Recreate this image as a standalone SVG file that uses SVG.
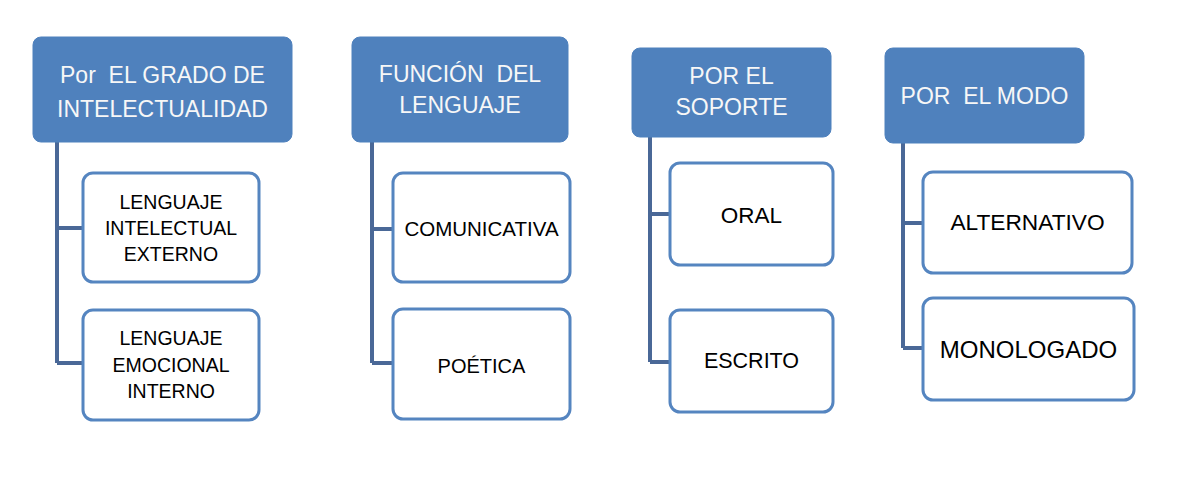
<svg xmlns="http://www.w3.org/2000/svg" width="1186" height="477" viewBox="0 0 1186 477">
<style>
.hdr{fill:#4f81bd;stroke:#4f81bd;stroke-width:1}
.box{fill:#ffffff;stroke:#5585c0;stroke-width:3}
.ht{fill:#f7f7f7;font-family:"Liberation Sans",Arial,sans-serif;font-size:23px;text-anchor:middle;white-space:pre}
.ct{fill:#000000;font-family:"Liberation Sans",Arial,sans-serif;text-anchor:middle;white-space:pre}
.con{fill:none;stroke:#4a6897;stroke-width:4}
</style>
<rect width="1186" height="477" fill="#ffffff"/>
<g id="connectors">
<path class="con" d="M57 142 V363 M57 228 H83 M57 363 H83"/>
<path class="con" d="M372 142 V363 M372 229 H393 M372 363 H393"/>
<path class="con" d="M650 137 V362 M650 214 H670 M650 362 H670"/>
<path class="con" d="M903 143 V348 M903 223 H923 M903 348 H923"/>
</g>
<g id="h1"><rect class="hdr" x="33" y="37" width="259" height="105" rx="8"/>
<text class="ht" x="162.5" y="83">Por  EL GRADO DE</text>
<text class="ht" x="162.5" y="117">INTELECTUALIDAD</text></g>
<g id="c1a"><rect class="box" x="83" y="173" width="176" height="109" rx="10"/>
<text class="ct" font-size="19.5" x="171" y="209">LENGUAJE</text>
<text class="ct" font-size="19.5" x="171" y="235">INTELECTUAL</text>
<text class="ct" font-size="19.5" x="171" y="261">EXTERNO</text></g>
<g id="c1b"><rect class="box" x="83" y="310" width="176" height="110" rx="10"/>
<text class="ct" font-size="19.5" x="171" y="345">LENGUAJE</text>
<text class="ct" font-size="19.5" x="171" y="372">EMOCIONAL</text>
<text class="ct" font-size="19.5" x="171" y="398">INTERNO</text></g>

<g id="h2"><rect class="hdr" x="352" y="37" width="216" height="105" rx="8"/>
<text class="ht" x="460" y="82">FUNCIÓN  DEL</text>
<text class="ht" x="460" y="113">LENGUAJE</text></g>
<g id="c2a"><rect class="box" x="393" y="173" width="177" height="109" rx="10"/>
<text class="ct" font-size="20.5" x="481.5" y="236">COMUNICATIVA</text></g>
<g id="c2b"><rect class="box" x="393" y="309" width="177" height="110" rx="10"/>
<text class="ct" font-size="20" x="481.5" y="373">POÉTICA</text></g>

<g id="h3"><rect class="hdr" x="632" y="48" width="199" height="89" rx="8"/>
<text class="ht" x="731.5" y="84">POR EL</text>
<text class="ht" x="731.5" y="115">SOPORTE</text></g>
<g id="c3a"><rect class="box" x="670" y="163" width="163" height="102" rx="10"/>
<text class="ct" font-size="22.5" x="751.5" y="223">ORAL</text></g>
<g id="c3b"><rect class="box" x="670" y="310" width="163" height="102" rx="10"/>
<text class="ct" font-size="21.5" x="751.5" y="368">ESCRITO</text></g>

<g id="h4"><rect class="hdr" x="885" y="48" width="199" height="95" rx="8"/>
<text class="ht" x="984.5" y="104">POR  EL MODO</text></g>
<g id="c4a"><rect class="box" x="923" y="172" width="209" height="101" rx="10"/>
<text class="ct" font-size="22.7" x="1027.5" y="230">ALTERNATIVO</text></g>
<g id="c4b"><rect class="box" x="923" y="298" width="211" height="102" rx="10"/>
<text class="ct" font-size="24" x="1028.5" y="358">MONOLOGADO</text></g>
</svg>
